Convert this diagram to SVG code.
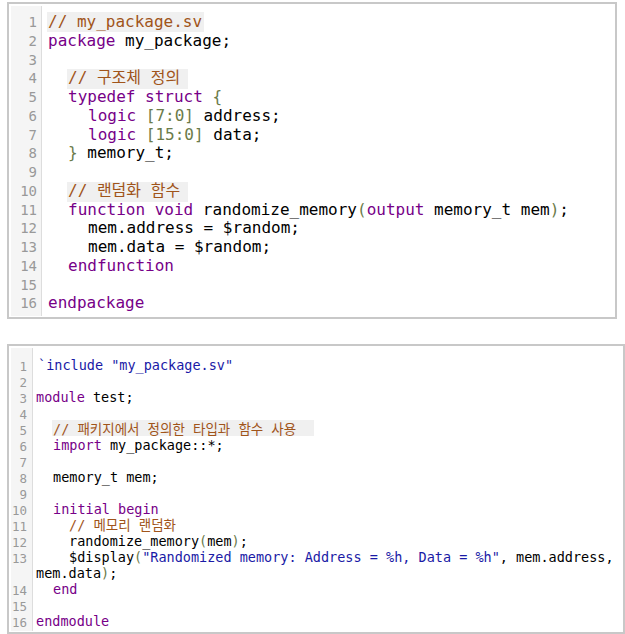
<svg xmlns="http://www.w3.org/2000/svg" width="625" height="634" viewBox="0 0 625 634">
<style>
.p{fill:#fff;stroke:#c8c8c8;stroke-width:2}
.g{fill:#f5f5f5}
.gl{stroke:#dddddd;stroke-width:1}
.n{font-family:"DejaVu Sans Mono",monospace;fill:#999;text-anchor:end}
.c{font-family:"DejaVu Sans Mono","Noto Sans CJK KR",monospace;fill:#000;white-space:pre}
.a{font-size:16px}.b{font-size:13.5px}
.n1{font-size:14px}.n2{font-size:12.5px}
.k{fill:#770088}.cm{fill:#a0541a}.br{fill:#6b7b4a}.s{fill:#1a1aa6}
.hl{fill:#f0f0f0}
</style>
<g id="panel1">
<rect class="p" x="8" y="3" width="608" height="315"/>
<rect class="g" x="11" y="6" width="30" height="310"/>
<line class="gl" x1="41.5" y1="6" x2="41.5" y2="316"/>
<rect class="hl" x="47" y="12" width="157" height="20"/>
<rect class="hl" x="67" y="69" width="121" height="20"/>
<rect class="hl" x="67" y="182" width="121" height="20"/>
<g class="n n1">
<text x="37" y="27">1</text><text x="37" y="46">2</text><text x="37" y="65">3</text><text x="37" y="83">4</text><text x="37" y="102">5</text><text x="37" y="121">6</text><text x="37" y="140">7</text><text x="37" y="158">8</text><text x="37" y="177">9</text><text x="37" y="196">10</text><text x="37" y="215">11</text><text x="37" y="233">12</text><text x="37" y="252">13</text><text x="37" y="271">14</text><text x="37" y="290">15</text><text x="37" y="308">16</text>
</g>
<g class="c a">
<text x="48" y="27" class="cm">// my_package.sv</text>
<text x="48" y="46"><tspan class="k">package</tspan> my_package;</text>
<text x="68" y="83" class="cm">// 구조체 정의</text>
<text x="68" y="102"><tspan class="k">typedef struct</tspan> <tspan class="br">{</tspan></text>
<text x="88" y="121"><tspan class="k">logic</tspan> <tspan class="br">[7:0]</tspan> address;</text>
<text x="88" y="140"><tspan class="k">logic</tspan> <tspan class="br">[15:0]</tspan> data;</text>
<text x="68" y="158"><tspan class="br">}</tspan> memory_t;</text>
<text x="68" y="196" class="cm">// 랜덤화 함수</text>
<text x="68" y="215"><tspan class="k">function void</tspan> randomize_memory<tspan class="br">(</tspan><tspan class="k">output</tspan> memory_t mem<tspan class="br">)</tspan>;</text>
<text x="88" y="233">mem.address = $random;</text>
<text x="88" y="252">mem.data = $random;</text>
<text x="68" y="271" class="k">endfunction</text>
<text x="48" y="308" class="k">endpackage</text>
</g>
</g>
<g id="panel2">
<rect class="p" x="8" y="345" width="616" height="288"/>
<rect class="g" x="11" y="348" width="21" height="283"/>
<line class="gl" x1="32.5" y1="348" x2="32.5" y2="631"/>
<rect class="hl" x="52" y="420" width="262" height="16"/>
<g class="n n2">
<text x="27" y="371">1</text><text x="27" y="387">2</text><text x="27" y="403">3</text><text x="27" y="419">4</text><text x="27" y="435">5</text><text x="27" y="451">6</text><text x="27" y="467">7</text><text x="27" y="483">8</text><text x="27" y="499">9</text><text x="27" y="515">10</text><text x="27" y="531">11</text><text x="27" y="547">12</text><text x="27" y="563">13</text><text x="27" y="595">14</text><text x="27" y="611">15</text><text x="27" y="627">16</text>
</g>
<g class="c b">
<text x="38" y="370"><tspan class="s">`include</tspan> <tspan class="s">"my_package.sv"</tspan></text>
<text x="36" y="402"><tspan class="k">module</tspan> test;</text>
<text x="53" y="434" class="cm">// 패키지에서 정의한 타입과 함수 사용</text>
<text x="53" y="450"><tspan class="k">import</tspan> my_package::*;</text>
<text x="53" y="482">memory_t mem;</text>
<text x="53" y="514" class="k">initial begin</text>
<text x="69" y="530" class="cm">// 메모리 랜덤화</text>
<text x="69" y="546">randomize_memory<tspan class="br">(</tspan>mem<tspan class="br">)</tspan>;</text>
<text x="69" y="562">$display<tspan class="br">(</tspan><tspan class="s">"Randomized memory: Address = %h, Data = %h"</tspan>, mem.address,</text>
<text x="36" y="578">mem.data<tspan class="br">)</tspan>;</text>
<text x="53" y="594" class="k">end</text>
<text x="36" y="626" class="k">endmodule</text>
</g>
</g>
</svg>
